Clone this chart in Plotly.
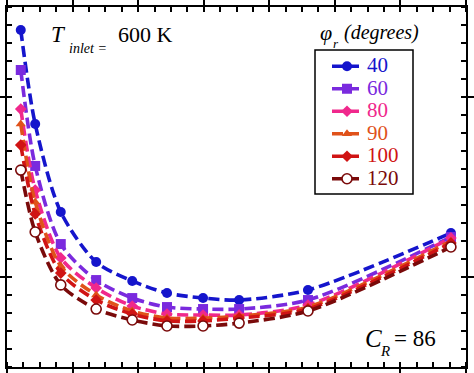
import plotly.graph_objects as go

# x positions (axis units, labels cropped in original)
x_vals = [0.21, 0.43, 0.82, 1.36, 1.91, 2.44, 2.99, 3.54, 4.59, 6.77]

phi_labels = ["40", "60", "80", "90", "100", "120"]
y_40 = [18.72, 13.50, 8.61, 5.83, 4.78, 4.11, 3.83, 3.72, 4.28, 7.44]
y_60 = [16.50, 11.17, 6.83, 4.83, 3.83, 3.33, 3.22, 3.22, 3.72, 7.22]
y_80 = [14.33, 9.83, 6.06, 4.39, 3.39, 2.94, 2.89, 2.89, 3.44, 7.17]
y_90 = [13.50, 9.17, 5.61, 4.00, 3.11, 2.72, 2.72, 2.83, 3.33, 7.00]
y_100 = [12.33, 8.50, 5.22, 3.72, 2.94, 2.56, 2.56, 2.72, 3.22, 6.89]
y_120 = [10.94, 7.50, 4.56, 3.22, 2.61, 2.28, 2.28, 2.44, 3.11, 6.67]
series = [y_40, y_60, y_80, y_90, y_100, y_120]

colors = ["#1515cc", "#7a2ade", "#f0288c", "#e0521a", "#d01414", "#7a0a0a"]
symbols = ["circle", "square", "diamond", "triangle-up", "diamond", "circle"]
msizes = [10, 10, 9, 9, 9, 10]

fig = go.Figure()
for lab, ys, c, s, ms in zip(phi_labels, series, colors, symbols, msizes):
    open_marker = lab == "120"
    fig.add_trace(go.Scatter(
        x=x_vals, y=ys, mode="lines+markers",
        name=f"<span style='font-size:21px;color:{c}'>{lab}</span>",
        line=dict(color=c, width=3.6, dash="11px,5px", shape="spline", smoothing=0.8),
        marker=dict(symbol=s, size=ms,
                    color="white" if open_marker else c,
                    line=dict(color=c, width=1.6 if open_marker else 0)),
    ))

L, R, T, B = 7, 466, 7, 367
def px(x):
    return (x - L) / (R - L)
def py(y):
    return (B - y) / (B - T)

font_fam = "Liberation Serif"
ann = []
def add_text(text, x, y, size, italic=False):
    t = f"<i>{text}</i>" if italic else text
    ann.append(dict(text=t, x=px(x), y=py(y), xref="paper", yref="paper",
                    xanchor="center", yanchor="middle", showarrow=False,
                    font=dict(family=font_fam, size=size, color="black")))

add_text("T", 58, 35, 23, True)
add_text("inlet =", 88, 48, 14, True)
add_text("600 K", 145, 35, 22)
add_text("φ", 326, 33, 22, True)
add_text("r", 336, 44, 13, True)
add_text("(degrees)", 381, 33, 20, True)
add_text("C", 373, 338, 25, True)
add_text("R", 385, 351, 15, True)
add_text("= 86", 415, 338, 23)

axis_common = dict(
    showgrid=False, zeroline=False, showticklabels=False, automargin=False,
    showline=True, linecolor="black", linewidth=2, mirror="allticks",
    ticks="outside", ticklen=8, tickwidth=1.5, tickcolor="black",
)

fig.update_layout(
    width=474, height=373,
    margin=dict(l=L, r=474 - R, t=T, b=373 - B, autoexpand=False),
    paper_bgcolor="white", plot_bgcolor="white",
    font=dict(family=font_fam, size=15, color="black"),
    showlegend=True,
    legend=dict(x=px(327), y=py(50), xanchor="left", yanchor="top",
                borderwidth=0, bgcolor="rgba(0,0,0,0)",
                font=dict(family=font_fam, size=15), itemwidth=30,
                tracegroupgap=0),
    shapes=[dict(type="rect", xref="paper", yref="paper",
                 x0=px(315), x1=px(413), y0=py(194), y1=py(50),
                 line=dict(color="black", width=1.5), fillcolor="rgba(0,0,0,0)",
                 layer="above")],
    xaxis=dict(range=[0, 7], tick0=0, dtick=1,
               minor=dict(dtick=0.25, ticks="inside", ticklen=5, tickcolor="black", tickwidth=1.5),
               **axis_common),
    yaxis=dict(range=[0, 20], tick0=5, dtick=10,
               minor=dict(dtick=1, ticks="inside", ticklen=5, tickcolor="black", tickwidth=1.5),
               **axis_common),
    annotations=ann,
)

fig.write_html(
    "out.html",
    config={"displayModeBar": False},
    post_script="document.body.style.margin='0';document.body.style.overflow='hidden';",
)
